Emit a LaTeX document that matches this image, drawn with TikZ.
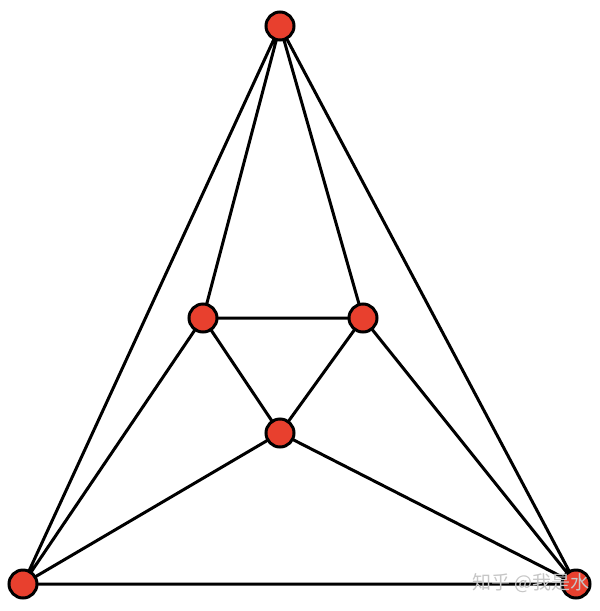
\documentclass[tikz,border=0pt]{standalone}
\usepackage{fontspec}
\usetikzlibrary{backgrounds}
\newfontfamily\cjk{Noto Sans CJK SC}
\definecolor{vred}{HTML}{E8402E}
\tikzset{
  vtx/.style={circle, draw=black, fill=vred, line width=3pt, minimum size=28pt, inner sep=0pt},
  edge/.style={line width=3pt, black},
  wm/.style={font=\cjk\fontsize{19}{19}\selectfont, inner sep=0pt, text=gray!45}
}
\begin{document}
\begin{tikzpicture}[x=1pt,y=-1pt]
\useasboundingbox (0,0) rectangle (600,611);
\node[vtx] (t) at (280,26) {};
\node[vtx] (l) at (203,318) {};
\node[vtx] (r) at (363,318) {};
\node[vtx] (c) at (280,433) {};
\node[vtx] (bl) at (23,584) {};
\node[vtx] (br) at (576,584) {};
\begin{scope}[on background layer]
\draw[edge] (t.center) -- (bl.center) (t.center) -- (br.center) (t.center) -- (l.center) (t.center) -- (r.center)
  (l.center) -- (r.center) (l.center) -- (c.center) (r.center) -- (c.center)
  (l.center) -- (bl.center) (r.center) -- (br.center) (c.center) -- (bl.center) (c.center) -- (br.center)
  (bl.center) -- (br.center);
\end{scope}
\node[wm, anchor=west] (wm) at (472,583) {知乎 @我是水};
\end{tikzpicture}
\end{document}
